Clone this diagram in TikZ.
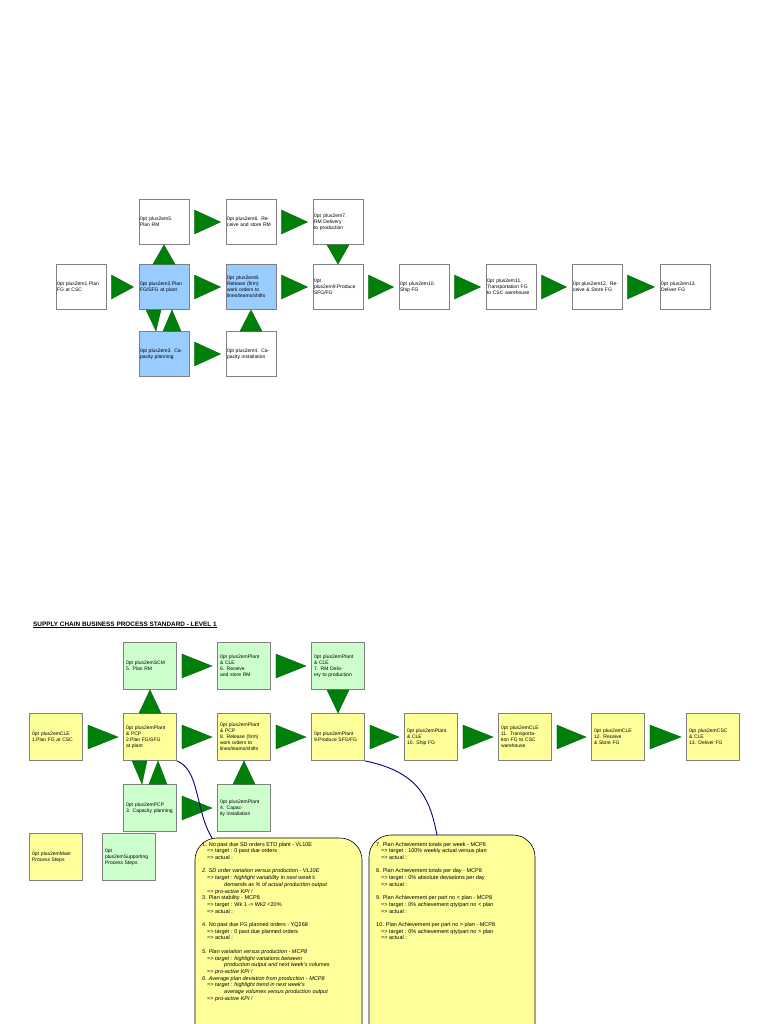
\documentclass[tikz,border=0pt]{standalone}
\usepackage{fontspec}
\setmainfont{Liberation Sans}
\usetikzlibrary{calc}
\definecolor{bblue}{HTML}{99CCFF}
\definecolor{byel}{HTML}{FFFF99}
\definecolor{bgrn}{HTML}{CCFFCC}
\definecolor{agrn}{HTML}{00800A}
\definecolor{bord}{HTML}{808080}
\tikzset{
 box/.style={draw=bord,line width=0.8pt,minimum width=50pt,minimum height=45pt,inner sep=1pt,align=center,text width=48pt,font=\fontsize{5}{6}\selectfont\hyphenpenalty=10000\exhyphenpenalty=10000},
 wbox/.style={box,fill=white},
 blbox/.style={box,fill=bblue},
 ybox/.style={box,fill=byel,minimum width=53pt,minimum height=47pt},
 gbox/.style={box,fill=bgrn,minimum width=53pt,minimum height=47pt},
 tri/.style={fill=agrn,draw=agrn!70!black,line width=0.3pt},
 note/.style={draw=black,line width=0.6pt,fill=byel,rounded corners=22pt},
 ntext/.style={anchor=north west,align=left,inner sep=0pt,font=\fontsize{5.5}{6.7}\selectfont},
 link/.style={draw=blue!50!black,line width=0.9pt}
}
\newcommand{\rtri}[2]{\path[tri] ($(#1.east)+(5,-12)$) -- ($(#1.east)+(5,12)$) -- ($(#2.west)+(-5,0)$) -- cycle;}
\newcommand{\utri}[2]{\path[tri] ($(#1.north)+(-11,0)$) -- ($(#1.north)+(11,0)$) -- (#2.south) -- cycle;}
\newcommand{\dtri}[2]{\path[tri] ($(#1.south)+(-11,0)$) -- ($(#1.south)+(11,0)$) -- (#2.north) -- cycle;}
\newcommand{\pairtri}[2]{%
 \path[tri] ($(#1.south)+(-18,0)$) -- ($(#1.south)+(-3,0)$) -- ($(#2.north)+(-8,0)$) -- cycle;
 \path[tri] ($(#2.north)+(-1,0)$) -- ($(#2.north)+(17,0)$) -- ($(#1.south)+(8,0)$) -- cycle;}
\begin{document}
\begin{tikzpicture}[x=1pt,y=-1pt]
\useasboundingbox (0,0) rectangle (768,1024);
\clip (0,0) rectangle (768,1024);
\fill[white] (0,0) rectangle (768,1024);
% ---------- top diagram
\node[wbox] (t1) at (81,287) {1.Plan FG at CSC};
\node[blbox] (t2) at (164,287) {2.Plan FG/SFG at plant};
\node[blbox] (t8) at (251,287) {8. Release (firm) work orders to lines/teams/shifts};
\node[wbox] (t9) at (338,287) {9.Produce SFG/FG};
\node[wbox] (t10) at (424,287) {10. Ship FG};
\node[wbox] (t11) at (511,287) {11. Transportation FG to CSC warehouse};
\node[wbox] (t12) at (597,287) {12. Receive \& Store FG};
\node[wbox] (t13) at (685,287) {13. Deliver FG};
\node[wbox] (t5) at (164,222) {5. Plan RM};
\node[wbox] (t6) at (251,222) {6. Receive and store RM};
\node[wbox] (t7) at (338,222) {7. RM Delivery to production};
\node[blbox] (t3) at (164,354) {3. Capacity planning};
\node[wbox] (t4) at (251,354) {4. Capacity installation};
\rtri{t1}{t2}\rtri{t2}{t8}\rtri{t8}{t9}\rtri{t9}{t10}\rtri{t10}{t11}\rtri{t11}{t12}\rtri{t12}{t13}
\rtri{t5}{t6}\rtri{t6}{t7}\rtri{t3}{t4}
\utri{t2}{t5}\utri{t4}{t8}\dtri{t7}{t9}\pairtri{t2}{t3}
% ---------- bottom diagram
\node[anchor=west,inner sep=0pt,font=\fontsize{6.4}{7}\selectfont\bfseries] (title) at (33,625) {\underline{SUPPLY CHAIN BUSINESS PROCESS STANDARD - LEVEL 1}};
\node[ybox] (b1) at (56,737) {CLE\\1.Plan FG at CSC};
\node[ybox] (b2) at (150,737) {Plant \& PCP\\2.Plan FG/SFG at plant};
\node[ybox] (b8) at (244,737) {Plant \& PCP\\8. Release (firm) work orders to lines/teams/shifts};
\node[ybox] (b9) at (338,737) {Plant\\9.Produce SFG/FG};
\node[ybox] (b10) at (431,737) {Plant \& CLE\\10. Ship FG};
\node[ybox] (b11) at (525,737) {CLE\\11. Transportation FG to CSC warehouse};
\node[ybox] (b12) at (618,737) {CLE\\12. Receive \& Store FG};
\node[ybox] (b13) at (713,737) {CSC \& CLE\\13. Deliver FG};
\node[gbox] (b5) at (150,666) {SCM\\5. Plan RM};
\node[gbox] (b6) at (244,666) {Plant \& CLE\\6. Receive and store RM};
\node[gbox] (b7) at (338,666) {Plant \& CLE\\7. RM Delivery to production};
\node[gbox] (b3) at (150,808) {PCP\\3. Capacity planning};
\node[gbox] (b4) at (244,808) {Plant\\4. Capacity installation};
\rtri{b1}{b2}\rtri{b2}{b8}\rtri{b8}{b9}\rtri{b9}{b10}\rtri{b10}{b11}\rtri{b11}{b12}\rtri{b12}{b13}
\rtri{b5}{b6}\rtri{b6}{b7}\rtri{b3}{b4}
\utri{b2}{b5}\utri{b4}{b8}\dtri{b7}{b9}\pairtri{b2}{b3}
% legend
\node[ybox] (lg1) at (56,857) {Main Process Steps};
\node[gbox] (lg2) at (129,857) {Supporting Process Steps};
% notes
\path[note] (195,838) rectangle (362,1060);
\path[note] (369,835) rectangle (535,1060);
\coordinate (n1) at (212,838);
\coordinate (n2) at (437,835);
\draw[link] (b2.south east) .. controls (200,770) and (195,810) .. (n1);
\draw[link] (b9.south east) .. controls (420,772) and (430,800) .. (n2);
\node[ntext] (nt1) at (202,842) {1. No past due SD orders ETD plant - VL10E\\
\hspace*{5pt}=> target : 0 past due orders\\
\hspace*{5pt}=> actual :\\[6.7pt]
\textit{2. SD order variation versus production - VL10E}\\
\hspace*{5pt}\textit{=> target : highlight variability in next week's}\\
\hspace*{22pt}\textit{demands as \% of actual production output}\\
\hspace*{5pt}=> \textit{pro-active KPI !}\\
3. Plan stability - MCP8\\
\hspace*{5pt}=> target : Wk 1 -> Wk2 <20\%\\
\hspace*{5pt}=> actual :\\[6.7pt]
4. No past due FG planned orders - YQ268\\
\hspace*{5pt}=> target : 0 past due planned orders\\
\hspace*{5pt}=> actual :\\[6.7pt]
\textit{5. Plan variation versus production - MCP8}\\
\hspace*{5pt}\textit{=> target : highlight variations between}\\
\hspace*{22pt}\textit{production output and next week's volumes}\\
\hspace*{5pt}=> \textit{pro-active KPI !}\\
\textit{6. Average plan deviation from production - MCP8}\\
\hspace*{5pt}\textit{=> target : highlight trend in next week's}\\
\hspace*{22pt}\textit{average volumes versus production output}\\
\hspace*{5pt}=> \textit{pro-active KPI !}};
\node[ntext] (nt2) at (376,842) {7. Plan Achievement totals per week - MCP8\\
\hspace*{5pt}=> target : 100\% weekly actual versus plan\\
\hspace*{5pt}=> actual :\\[6.7pt]
8. Plan Achievement totals per day - MCP8\\
\hspace*{5pt}=> target : 0\% absolute deviations per day\\
\hspace*{5pt}=> actual :\\[6.7pt]
9. Plan Achievement per part no < plan - MCP8\\
\hspace*{5pt}=> target : 0\% achievement qty/part no < plan\\
\hspace*{5pt}=> actual :\\[6.7pt]
10. Plan Achievement per part no > plan - MCP8\\
\hspace*{5pt}=> target : 0\% achievement qty/part no > plan\\
\hspace*{5pt}=> actual :};
\end{tikzpicture}
\end{document}
